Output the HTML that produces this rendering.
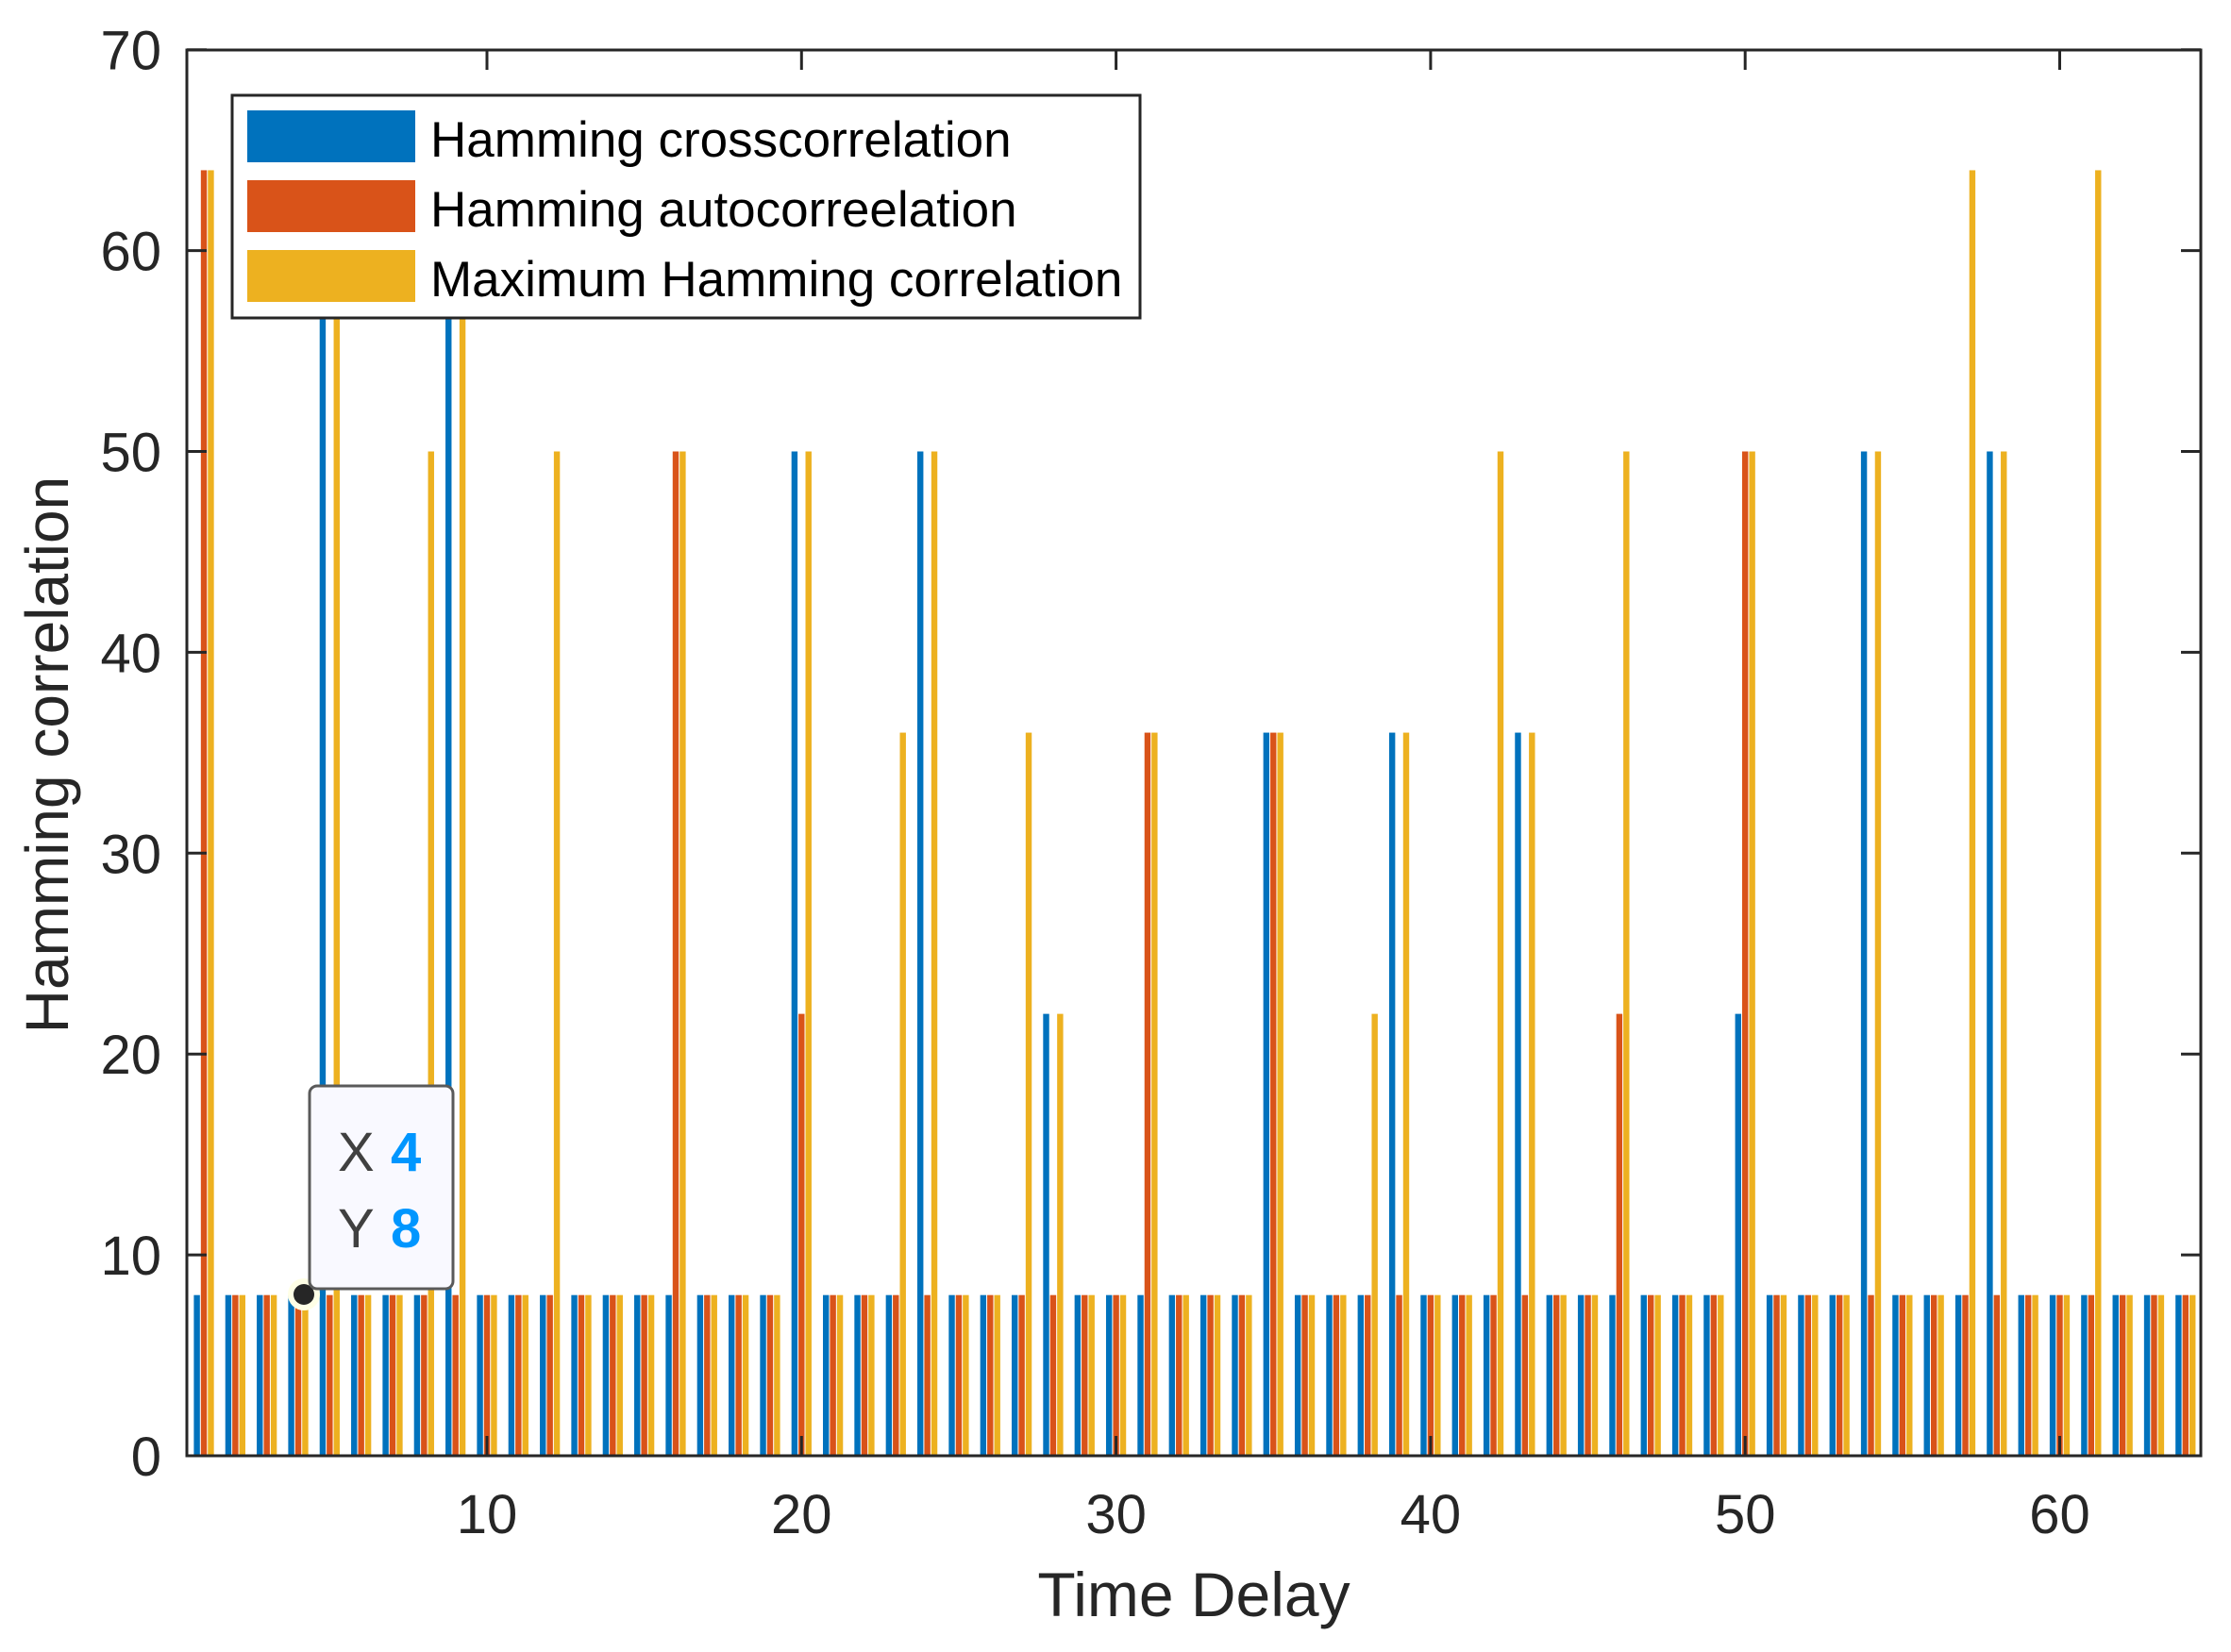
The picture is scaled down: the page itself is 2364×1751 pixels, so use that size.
<!DOCTYPE html>
<html><head><meta charset="utf-8"><style>
html,body{margin:0;padding:0;background:#fff;}
svg{display:block;}
text{font-family:"Liberation Sans",Arial,sans-serif;}
</style></head><body>
<svg id="s" width="2364" height="1751" viewBox="0 0 2364 1751" xmlns="http://www.w3.org/2000/svg">
<rect width="2364" height="1751" fill="#fff"/>
<g id="bars"></g>
<g id="axes" stroke="#262626" stroke-width="3" fill="none"></g>
<g id="labels" fill="#262626" font-size="58"></g>
<text x="1265" y="1713" font-size="66" fill="#262626" text-anchor="middle">Time Delay</text>
<text transform="translate(72,800) rotate(-90)" font-size="64" fill="#262626" text-anchor="middle">Hamming correlation</text>
<!-- legend -->
<rect x="246" y="101" width="962" height="236" fill="#fff" stroke="#262626" stroke-width="3"/>
<rect x="262" y="117" width="178" height="55" fill="#0072BD"/>
<rect x="262" y="191" width="178" height="55" fill="#D95319"/>
<rect x="262" y="265" width="178" height="55" fill="#EDB120"/>
<g font-size="53" fill="#000">
<text x="456" y="166">Hamming crosscorrelation</text>
<text x="456" y="240">Hamming autocorreelation</text>
<text x="456" y="314">Maximum Hamming correlation</text>
</g>
<!-- datatip -->
<circle cx="322" cy="1372" r="17" fill="#ffffe6"/>
<circle cx="322" cy="1372" r="11" fill="#262626"/>
<rect x="328" y="1151" width="152" height="215" rx="8" fill="#f9f9ff" stroke="#5a5a5a" stroke-width="3"/>
<text x="358" y="1241" font-size="58" fill="#404040">X</text>
<text x="414" y="1241" font-size="58" font-weight="bold" fill="#0096ff">4</text>
<text x="358" y="1322" font-size="58" fill="#404040">Y</text>
<text x="414" y="1322" font-size="58" font-weight="bold" fill="#0096ff">8</text>
</svg>
<script>
var L=198,R=2332,T=53,B=1543;
function X(v){return 516+(v-10)*33.33;}
function Y(v){return B-v*21.29;}
var n=64,A=[],Bv=[],C=[];
for(var i=1;i<=n;i++){A[i]=8;Bv[i]=8;C[i]=8;}
function s(i,a,b,c){if(a!=null)A[i]=a;if(b!=null)Bv[i]=b;if(c!=null)C[i]=c;}
s(1,8,64,64);s(5,64,8,64);s(8,null,null,50);s(9,64,8,64);s(12,null,null,50);
s(16,8,50,50);s(20,50,22,50);s(23,null,null,36);s(24,50,8,50);s(27,null,null,36);
s(28,22,8,22);s(31,8,36,36);s(35,36,36,36);s(38,null,null,22);s(39,36,8,36);
s(42,null,null,50);s(43,36,8,36);s(46,8,22,50);s(50,22,50,50);s(54,50,8,50);
s(57,null,null,64);s(58,50,8,50);s(61,null,null,64);
var ns="http://www.w3.org/2000/svg",g=document.getElementById('bars'),h='';
var cols=['#0072BD','#D95319','#EDB120'],off=7.42,w=7.42;
for(var i=1;i<=n;i++){var vals=[A[i],Bv[i],C[i]];
 for(var k=0;k<3;k++){var cx=X(i)+(k-1)*off;var y=Y(vals[k]);
  h+='<rect x="'+(cx-w/2+0.5).toFixed(2)+'" y="'+y.toFixed(2)+'" width="'+(w-1).toFixed(2)+'" height="'+(B-y).toFixed(2)+'" fill="'+cols[k]+'"/>';}}
g.innerHTML=h;
var a='<rect x="'+L+'" y="'+T+'" width="'+(R-L)+'" height="'+(B-T)+'"/>';
var lb='';
for(var v=0;v<=70;v+=10){var y=Y(v);
 a+='<line x1="'+L+'" y1="'+y+'" x2="'+(L+21)+'" y2="'+y+'"/><line x1="'+R+'" y1="'+y+'" x2="'+(R-21)+'" y2="'+y+'"/>';
 lb+='<text x="171" y="'+(y+21)+'" text-anchor="end">'+v+'</text>';}
for(var v=10;v<=60;v+=10){var x=X(v);
 a+='<line x1="'+x+'" y1="'+B+'" x2="'+x+'" y2="'+(B-21)+'"/><line x1="'+x+'" y1="'+T+'" x2="'+x+'" y2="'+(T+21)+'"/>';
 lb+='<text x="'+x+'" y="1625" text-anchor="middle">'+v+'</text>';}
document.getElementById('axes').innerHTML=a;
document.getElementById('labels').innerHTML=lb;
</script>
</body></html>
